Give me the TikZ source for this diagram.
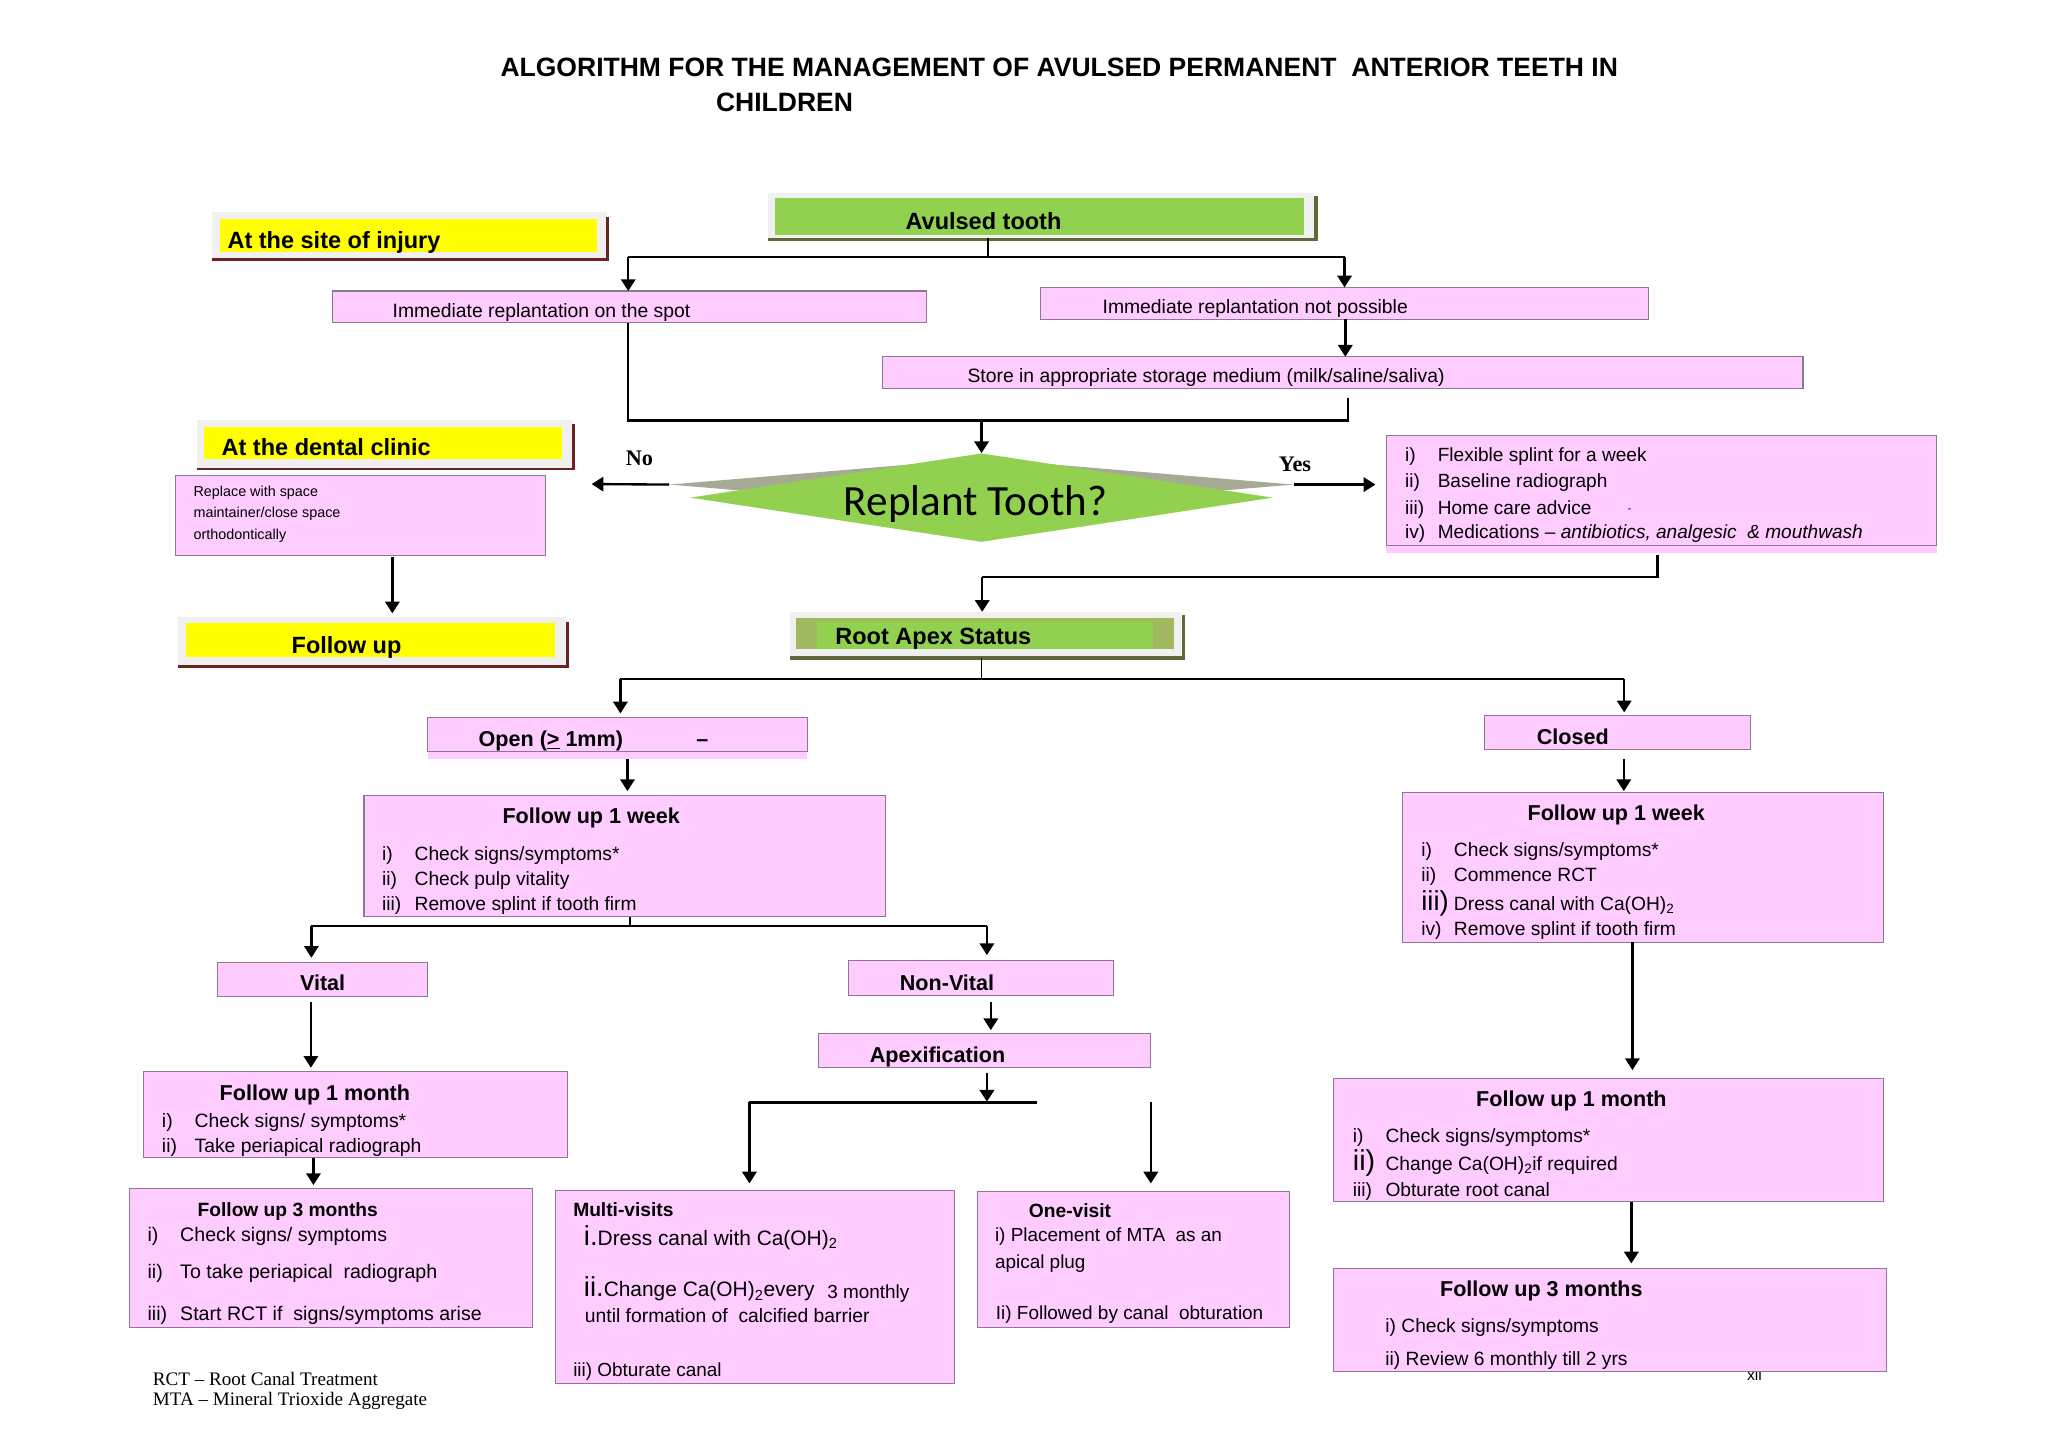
\documentclass[tikz,border=0pt]{standalone}
\usepackage{fontspec}
\setmainfont{Liberation Sans}
\newfontfamily\serifr[Ligatures=TeX]{Liberation Serif}
\newfontfamily\carl{Carlito}
\usetikzlibrary{arrows.meta,shapes.geometric}
\definecolor{pinkfill}{RGB}{255,204,255}
\definecolor{pinkedge}{RGB}{140,120,150}
\definecolor{ylw}{RGB}{255,255,0}
\definecolor{grn}{RGB}{146,208,80}
\definecolor{olv}{RGB}{160,184,96}
\definecolor{dolive}{RGB}{95,105,55}
\definecolor{maroonsh}{RGB}{110,35,35}
\definecolor{hdrgrey}{RGB}{240,240,240}
\definecolor{diagrey}{RGB}{166,170,148}
\newcommand\fs[1]{\fontsize{#1}{#1}\selectfont}
\newcommand\rbox[6]{\node[#1,anchor=north west,inner sep=0pt,outer sep=0pt,minimum width={(#5)-(#3)},minimum height={(#6)-(#4)}] (#2) at (#3,#4) {};}
\newcommand\tx[5]{\node[anchor=base west,inner sep=0pt,font=#4] (#1) at (#2,#3) {#5};}
\newcommand\txc[5]{\node[anchor=base,inner sep=0pt,font=#4] (#1) at (#2,#3) {#5};}
\newcommand\itm[2]{\makebox[25pt][l]{#1}#2}
\newcommand\caoh{Ca(OH)\textsubscript{2}}
\begin{document}
\begin{tikzpicture}[x=1pt,y=-1pt,
  pinkbox/.style={draw=pinkedge,fill=pinkfill,line width=0.8pt},
  conn/.style={line width=1.8pt},
  thinln/.style={line width=1pt},
  arr/.style={line width=1.8pt,-{Triangle[width=11pt,length=9pt]}}]
\useasboundingbox (0,0) rectangle (1568,1108);
\fill[white] (0,0) rectangle (1568,1108);

% ---------- title ----------
\tx{title1}{383}{58.7}{\fs{20.3}\bfseries}{ALGORITHM FOR THE MANAGEMENT OF AVULSED PERMANENT\ \ ANTERIOR TEETH IN}
\tx{title2}{548}{85.5}{\fs{20.3}\bfseries}{CHILDREN}

% ---------- header boxes ----------
\rbox{fill=hdrgrey}{siteg}{162.6}{162.6}{465}{198}
\draw[maroonsh,line width=2pt] (465,166) -- (465,198.5) -- (162.6,198.5);
\rbox{fill=ylw}{sitey}{168.4}{167.7}{456.7}{192.7}
\tx{sitet}{174}{190}{\fs{18}\bfseries}{At the site of injury}

\rbox{fill=hdrgrey}{dentg}{150.8}{321.6}{439}{358.6}
\draw[maroonsh,line width=2pt] (439,325) -- (439,359) -- (150.8,359);
\rbox{fill=ylw}{denty}{155.9}{326.7}{430.5}{351.7}
\tx{dentt}{169.5}{349}{\fs{18}\bfseries}{At the dental clinic}

\rbox{fill=hdrgrey}{fupg}{136.3}{472.7}{434.4}{510.5}
\draw[maroonsh,line width=2pt] (434.4,476) -- (434.4,510.5) -- (136.3,510.5);
\rbox{fill=ylw}{fupy}{142.2}{477.3}{424.6}{502.8}
\txc{fupt}{265.3}{500.2}{\fs{18}\bfseries}{Follow up}

\rbox{fill=hdrgrey}{avulg}{588.2}{148}{1005.9}{182.5}
\draw[dolive,line width=2.5pt] (1007.5,150) -- (1007.5,183.5) -- (588.2,183.5);
\rbox{fill=grn}{avul}{593.3}{151.9}{998.3}{179.9}
\txc{avult}{753}{175.6}{\fs{18}\bfseries}{Avulsed tooth}

\rbox{fill=hdrgrey}{rootg}{605.2}{468.4}{904.5}{502.8}
\draw[dolive,line width=2.5pt] (906,470.5) -- (906,503.8) -- (605.2,503.8);
\rbox{fill=olv}{rooto}{609.3}{473.4}{898.6}{497.2}
\rbox{fill=grn}{root}{625.6}{475.5}{882.6}{497.2}
\tx{roott}{639.4}{493.1}{\fs{18}\bfseries}{Root Apex Status}

% ---------- pink boxes ----------
\rbox{pinkbox}{spot}{254.7}{222.8}{709.4}{247.1}
\tx{spott}{300.4}{243}{\fs{14.8}}{Immediate replantation on the spot}

\rbox{pinkbox}{notposs}{796.5}{220}{1262.3}{244.3}
\tx{notposst}{844}{240}{\fs{14.8}}{Immediate replantation not possible}

\rbox{pinkbox}{store}{675.8}{273.1}{1380.4}{297.3}
\tx{storet}{740.6}{292.7}{\fs{14.8}}{Store in appropriate storage medium (milk/saline/saliva)}

\fill[pinkfill] (1061.4,418) rectangle (1482.8,423.7);
\rbox{pinkbox}{yesbox}{1061.4}{333.6}{1482.8}{418}
\tx{yes1}{1075.6}{353.5}{\fs{14.6}}{\itm{i)}{Flexible splint for a week}}
\tx{yes2}{1075.6}{373.4}{\fs{14.6}}{\itm{ii)}{Baseline radiograph}}
\tx{yes3}{1075.6}{393.6}{\fs{14.6}}{\itm{iii)}{Home care advice}}
\tx{yes3d}{1246}{392}{\fs{9}\color{blue}}{-}
\tx{yes4}{1075.6}{412.2}{\fs{14.6}}{\itm{iv)}{Medications -- \textit{antibiotics, analgesic\ \ \& mouthwash}}}

\rbox{pinkbox}{replace}{134.4}{363.9}{417.6}{425.5}
\tx{rep1}{148}{379.8}{\fs{11}}{Replace with space}
\tx{rep2}{148}{396.1}{\fs{11}}{maintainer/close space}
\tx{rep3}{148}{412.9}{\fs{11}}{orthodontically}

% diamond
\node[diamond,fill=diagrey,inner sep=0pt,minimum width=478pt,minimum height=40pt] (replsh) at (751.5,371) {};
\node[diamond,fill=grn,inner sep=0pt,minimum width=446.3pt,minimum height=67.8pt] (repl) at (751.5,381) {};
\txc{replt}{747}{394.5}{\carl\fs{33}}{Replant Tooth?}
\tx{no}{479}{356.5}{\serifr\fs{17}\bfseries}{No}
\tx{yes}{979}{361}{\serifr\fs{17}\bfseries}{Yes}

% open / closed
\fill[pinkfill] (327.6,575) rectangle (618.2,581.4);
\rbox{pinkbox}{open}{327.6}{549.5}{618.2}{575}
\tx{opent}{366.3}{571.7}{\fs{16.5}\bfseries}{Open (\underline{>} 1mm)}
\tx{opend}{533}{571.7}{\fs{16.5}\bfseries}{--}

\rbox{pinkbox}{closed}{1136.8}{548}{1340}{573.7}
\tx{closedt}{1176.5}{569.7}{\fs{16.5}\bfseries}{Closed}

% follow up 1 week left
\rbox{pinkbox}{fuwl}{278.7}{608.7}{677.6}{701.9}
\txc{fuwlt}{452.6}{630.4}{\fs{16.5}\bfseries}{Follow up 1 week}
\tx{fuwl1}{292.3}{658.5}{\fs{14.7}}{\itm{i)}{Check signs/symptoms*}}
\tx{fuwl2}{292.3}{678.2}{\fs{14.7}}{\itm{ii)}{Check pulp vitality}}
\tx{fuwl3}{292.3}{697.3}{\fs{14.7}}{\itm{iii)}{Remove splint if tooth firm}}

% follow up 1 week right
\rbox{pinkbox}{fuwr}{1074.1}{606.7}{1441.9}{721.5}
\txc{fuwrt}{1237.4}{627.9}{\fs{16.5}\bfseries}{Follow up 1 week}
\tx{fuwr1}{1088}{656}{\fs{14.7}}{\itm{i)}{Check signs/symptoms*}}
\tx{fuwr2}{1088}{675.1}{\fs{14.7}}{\itm{ii)}{Commence RCT}}
\tx{fuwr3}{1088}{696.8}{\fs{14.7}}{\itm{\fs{21}iii)}{Dress canal with \caoh}}
\tx{fuwr4}{1088}{715.9}{\fs{14.7}}{\itm{iv)}{Remove splint if tooth firm}}

% vital / non-vital / apexification
\rbox{pinkbox}{vital}{166.4}{737.1}{327.5}{762.6}
\txc{vitalt}{247}{758.5}{\fs{16.5}\bfseries}{Vital}
\rbox{pinkbox}{nonvital}{649.5}{735.6}{852.5}{761.9}
\tx{nonvitalt}{688.8}{758}{\fs{16.5}\bfseries}{Non-Vital}
\rbox{pinkbox}{apex}{626.5}{791.5}{881.1}{817.5}
\tx{apext}{665.8}{813.7}{\fs{16.5}\bfseries}{Apexification}

% follow up 1 month left
\rbox{pinkbox}{fuml}{109.7}{820.5}{434.4}{886.4}
\tx{fumlt}{168}{842.3}{\fs{16.5}\bfseries}{Follow up 1 month}
\tx{fuml1}{123.8}{863.2}{\fs{14.8}}{\itm{i)}{Check signs/ symptoms*}}
\tx{fuml2}{123.8}{882.6}{\fs{14.8}}{\itm{ii)}{Take periapical radiograph}}

% follow up 3 months left
\rbox{pinkbox}{fu3l}{99}{910.1}{407.4}{1016.6}
\tx{fu3lt}{151.1}{931.1}{\fs{14.7}\bfseries}{Follow up 3 months}
\tx{fu3l1}{112.8}{950.7}{\fs{15}}{\itm{i)}{Check signs/ symptoms}}
\tx{fu3l2}{112.8}{978.8}{\fs{15}}{\itm{ii)}{To take periapical\ \ radiograph}}
\tx{fu3l3}{112.8}{1010.7}{\fs{15}}{\itm{iii)}{Start RCT if\ \ signs/symptoms arise}}

% multi-visits
\rbox{pinkbox}{multi}{425.3}{911.7}{730.8}{1059.2}
\tx{multit}{438.7}{931.6}{\fs{14.7}\bfseries}{Multi-visits}
\tx{multi1}{446.9}{953.3}{\fs{16}}{{\fs{21}i.}Dress canal with \caoh}
\tx{multi2}{446.9}{992.8}{\fs{16}}{{\fs{21}ii.}Change \caoh every}
\tx{multi2b}{633.2}{994}{\fs{14.5}}{3 monthly}
\tx{multi3}{447.6}{1012.7}{\fs{14.8}}{until formation of\ \ calcified barrier}
\tx{multi4}{438.7}{1054.1}{\fs{14.5}}{iii) Obturate canal}

% one-visit
\rbox{pinkbox}{one}{748.2}{912.4}{986.9}{1016.3}
\tx{onet}{787.6}{932.1}{\fs{14.7}\bfseries}{One-visit}
\tx{one1}{761.6}{950.7}{\fs{14.5}}{i) Placement of MTA\ \ as an}
\tx{one2}{761.6}{971.1}{\fs{14.5}}{apical plug}
\tx{one3}{762.3}{1010.2}{\fs{14.5}}{Ii) Followed by canal\ \ obturation}

% follow up 1 month right
\rbox{pinkbox}{fumr}{1021}{825.6}{1442}{920.1}
\txc{fumrt}{1203.1}{847.4}{\fs{16.5}\bfseries}{Follow up 1 month}
\tx{fumr1}{1035.6}{874.9}{\fs{14.7}}{\itm{i)}{Check signs/symptoms*}}
\tx{fumr2}{1035.6}{895.9}{\fs{14.7}}{\itm{\fs{22}ii)}{Change \caoh if required}}
\tx{fumr3}{1035.6}{915.8}{\fs{14.7}}{\itm{iii)}{Obturate root canal}}

% follow up 3 months right
\tx{pageno}{1337.4}{1057}{\fs{12}}{xii}
\rbox{pinkbox}{fu3r}{1021}{971.1}{1444.4}{1049.8}
\tx{fu3rt}{1102.4}{992.8}{\fs{16.5}\bfseries}{Follow up 3 months}
\tx{fu3r1}{1060.5}{1020.4}{\fs{14.7}}{i) Check signs/symptoms}
\tx{fu3r2}{1060.5}{1045.2}{\fs{14.7}}{ii) Review 6 monthly till 2 yrs}

% footnote
\tx{foot1}{116.9}{1060.5}{\serifr\fs{14.6}}{RCT \textendash\ Root Canal Treatment}
\tx{foot2}{116.9}{1075.8}{\serifr\fs{14.6}}{MTA \textendash\ Mineral Trioxide Aggregate}

% ---------- connectors ----------
\coordinate (j1) at (756.5,197);
\draw[thinln] (avulg.south -| j1) -- (j1);
\draw[conn] (481,197) -- (1029.4,197);
\draw[arr] (481,197) -- (481,222.8);
\draw[arr] (1029.4,197) -- (notposs.north);
\draw[arr] (1030,244.3) -- (1030,273.1);
\coordinate (j2) at (1032,322);
\coordinate (j2top) at (1032,305);
\draw[conn] (481,247.1) |- (j2) -- (j2top);
\draw[arr] (751.5,322) -- (repl.north);
\coordinate (noend) at (453,370.6);
\coordinate (yesend) at (1053,371);
\draw[arr] (replsh.west) -- (noend);
\draw[arr] (replsh.east) -- (yesend);
\draw[arr] (300.4,426.8) -- (300.4,469.6);
\coordinate (j4top) at (1269,425);
\coordinate (j4) at (752,441.6);
\draw[conn] (j4top) |- (j4);
\draw[arr] (j4) -- (752,468.4);
\coordinate (j5) at (751.7,520);
\draw[thinln] (751.7,503.8) -- (j5);
\draw[conn] (475,520) -- (1243.5,520);
\draw[arr] (475,520) -- (475,546.2);
\draw[arr] (1243.5,520) -- (1243.5,545.4);
\draw[arr] (480.4,581.4) -- (480.4,605.7);
\draw[arr] (1243.2,581.4) -- (1243.2,605.7);
\coordinate (j6) at (482.4,709);
\draw[thinln] (482.4,701.9) -- (j6);
\draw[conn] (238.4,709) -- (755.6,709);
\draw[arr] (238.4,709) -- (238.4,733.3);
\draw[arr] (755.6,709) -- (755.6,731.2);
\draw[arr] (238,767) -- (238,817.5);
\draw[arr] (240,886.4) -- (240,907.3);
\draw[arr] (758.6,767) -- (758.6,788.7);
\draw[arr] (755.6,821.8) -- (755.6,843.5);
\draw[conn] (573.8,844) -- (793.9,844);
\draw[arr] (573.8,844) -- (573.8,906.1);
\draw[arr] (881.1,844) -- (881.1,906.1);
\draw[arr] (1249.8,721.5) -- (1249.8,819.3);
\draw[arr] (1249,920.1) -- (1249,967.3);
\end{tikzpicture}
\end{document}
